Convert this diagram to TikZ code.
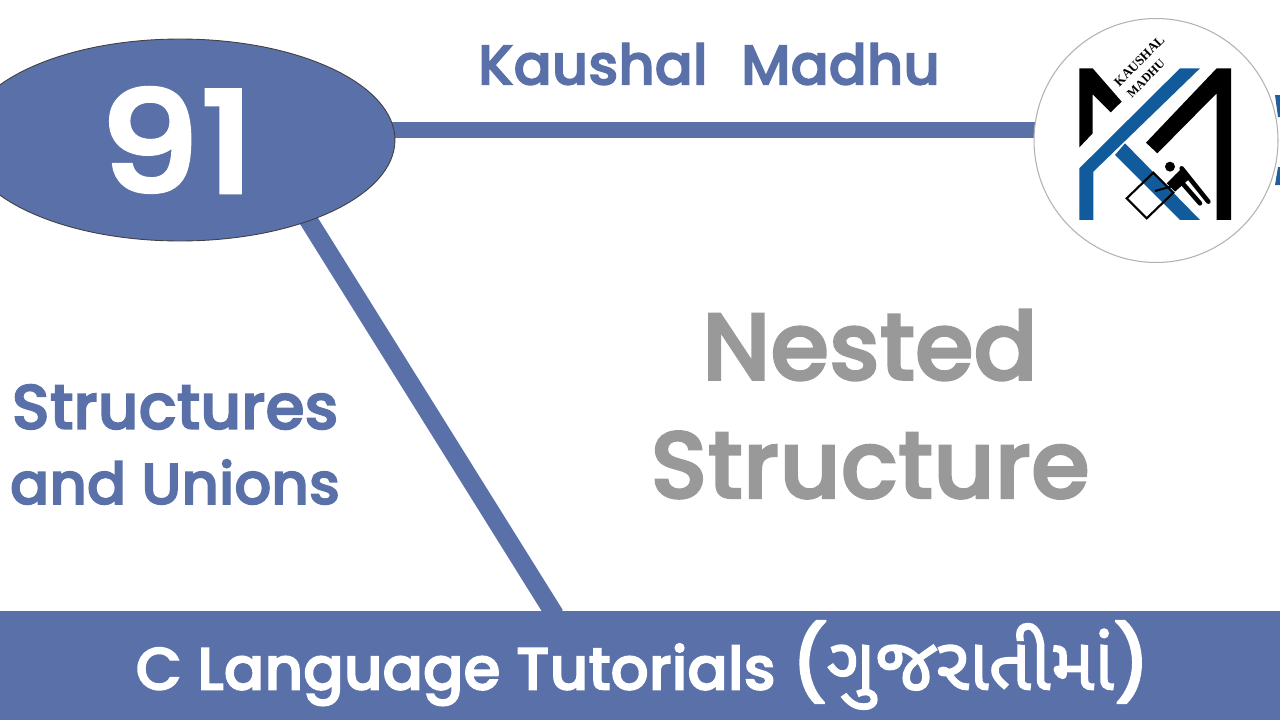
\documentclass[tikz,border=0pt]{standalone}
\usepackage{fontspec}
\setmainfont[FakeBold=2.4]{Poppins Medium}
\newfontfamily\gujfont[Script=Gujarati,FakeBold=2]{Noto Sans Gujarati UI}
\newfontfamily\numfont[FakeBold=2.6]{Poppins Medium}
\newfontfamily\logofont{Liberation Serif}
\usetikzlibrary{shapes.geometric}
\usetikzlibrary{backgrounds}
\definecolor{kmblue}{HTML}{5A70A8}
\definecolor{kmgrey}{HTML}{999999}
\definecolor{logoblue}{HTML}{115A9C}
\tikzset{
  title/.style={text=kmblue,font=\fontsize{#1}{#1}\selectfont,inner sep=0,align=center},
  greytitle/.style={text=kmgrey,font=\fontsize{54}{54}\selectfont,inner sep=0},
  link/.style={draw=kmblue,line width=#1},
  legline/.style={black,line width=2.6pt,line cap=round},
  logopart/.style={fill=#1,draw=none}
}
\begin{document}
\begin{tikzpicture}[x=0.02cm,y=-0.02cm]
\useasboundingbox (0,0) rectangle (1280,720);
\fill [logoblue!80!kmblue] (1275,95) -- (1280,95) -- (1280,117) -- (1278,117) -- cycle;
\fill [logoblue!80!kmblue] (1278,167) -- (1280,167) -- (1280,185) -- (1275,185) -- cycle;
\node (banner) [fill=kmblue,minimum width=25.6cm,minimum height=2.18cm,inner sep=0,anchor=south west] at (0,720) {};
\node (oval) [ellipse,draw=black!75,fill=kmblue,line width=0.5pt,minimum width=8.6cm,minimum height=4.04cm,inner sep=0] at (180,140) {};
\node (logo) [circle,draw=black!30,fill=white,line width=0.6pt,minimum size=4.88cm,inner sep=0] at (1156,140.5) {};
\coordinate (barstart) at (380,130);
\coordinate (barend) at (1060,130);
\coordinate (legstart) at (299,205);
\coordinate (legend) at (555,615);
\begin{pgfonlayer}{background}
\draw [link=9.5pt] (barstart) -- (barend);
\draw [link=10.5pt] (legstart) -- (legend);
\end{pgfonlayer}
\node (number) [text=white,font=\numfont\fontsize{80}{80}\selectfont,inner sep=0,xscale=1.13,transform shape] at (177,140) {91};
\node (author) [title=32] at (709,64) {Kaushal\,\, Madhu};
\node (topicline) [title=36] at (175,407) {Structures};
\node (topicsub) [title=33] at (175,482) {and Unions};
\node (nested) [greytitle] at (870,345) {Nested};
\node (structure) [greytitle] at (870,465) {Structure};
\node (course) [text=white,font=\fontsize{34}{34}\selectfont,inner sep=0] at (643,665) {C Language Tutorials {\fontsize{42}{42}\selectfont ({\gujfont ગુજરાતીમાં})}};
\begin{scope}[shift={(1020,0)},x=0.00667cm,y=-0.00667cm]
\fill [logopart=black] (178,205) -- (218,205) -- (305,305) -- (272,337) -- (218,283) -- (218,400) -- (178,442) -- cycle;
\fill [logopart=logoblue] (480,205) -- (540,205) -- (220,515) -- (220,660) -- (178,660) -- (178,505) -- cycle;
\fill [logopart=logoblue] (315,430) -- (540,660) -- (480,660) -- (285,465) -- cycle;
\fill [logopart=black] (590,205) -- (633,205) -- (633,660) -- (590,660) -- (590,280) -- (412,460) -- (378,428) -- cycle;
\draw [black,line width=1.2pt] (400,518) -- (320,595) -- (380,655) -- (460,578) -- cycle;
\fill [black] (450,500) circle (15);
\draw [black,line width=1.2pt] (405,573) -- (470,555);
\fill [black] (440,550) -- (485,505) -- (510,535) -- (465,575) -- cycle;
\draw [legline] (485,505) -- (565,605);
\draw [legline] (470,530) -- (540,610);
\node (kaushal) [rotate=45,font=\logofont\bfseries\fontsize{7.5}{7.5}\selectfont,inner sep=0] at (358,183) {KAUSHAL};
\node (madhu) [rotate=45,font=\logofont\bfseries\fontsize{7}{7}\selectfont,inner sep=0] at (378,236) {MADHU};
\end{scope}
\end{tikzpicture}
\end{document}
